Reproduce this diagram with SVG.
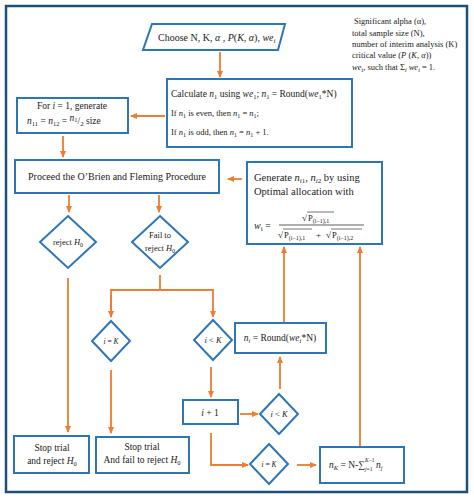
<svg xmlns="http://www.w3.org/2000/svg" width="474" height="502" viewBox="0 0 474 502" font-family="'Liberation Serif','Times New Roman',serif">
<style>
text{font-family:"Liberation Serif","Times New Roman",serif;fill:#1a1a1a}
.node{fill:#fff;stroke:#2E75B6;stroke-width:2}
.con{fill:none;stroke:#ED7D31;stroke-width:1.8}
.i{font-style:italic}
.c{text-anchor:middle}
</style>
<defs>
<marker id="ah" markerWidth="7" markerHeight="6" refX="6" refY="3" orient="auto" markerUnits="userSpaceOnUse">
<path d="M0,0 L7,3 L0,6 Z" fill="#ED7D31"/>
</marker>
</defs>
<rect x="0" y="0" width="474" height="502" fill="#fff"/>
<rect x="6" y="6" width="461" height="486" fill="none" stroke="#1F4E79" stroke-width="2.5"/>

<g id="annotation" font-size="8.5">
<text x="354" y="24">Significant alpha (α),</text>
<text x="352" y="36">total sample size (N),</text>
<text x="352" y="47">number of interim analysis (K)</text>
<text x="352" y="58">critical value (<tspan class="i">P</tspan> (<tspan class="i">K</tspan>, <tspan class="i">α</tspan>))</text>
<text x="352" y="70"><tspan class="i">we</tspan><tspan font-size="6" dy="2">i</tspan><tspan dy="-2">, such that Σ</tspan><tspan font-size="6" dy="2" class="i">i</tspan><tspan dy="-2">  </tspan><tspan class="i">we</tspan><tspan font-size="6" dy="2" class="i">i</tspan><tspan dy="-2"> = 1.</tspan></text>
</g>

<g id="connectors">
<line class="con" x1="220" y1="52" x2="220" y2="77" marker-end="url(#ah)"/>
<line class="con" x1="165" y1="116" x2="131" y2="116" marker-end="url(#ah)"/>
<line class="con" x1="63" y1="136" x2="63" y2="157" marker-end="url(#ah)"/>
<line class="con" x1="242" y1="179" x2="228" y2="179" marker-end="url(#ah)"/>
<line class="con" x1="69" y1="195" x2="69" y2="212" marker-end="url(#ah)"/>
<line class="con" x1="159" y1="195" x2="159" y2="212" marker-end="url(#ah)"/>
<line class="con" x1="68" y1="278" x2="68" y2="432" marker-end="url(#ah)"/>
<polyline class="con" points="160,275 160,290"/>
<polyline class="con" points="111,317 111,290 213,290 213,317" marker-end="url(#ah)"/>
<line class="con" x1="111" y1="295" x2="111" y2="317" marker-end="url(#ah)"/>
<line class="con" x1="111" y1="370" x2="111" y2="433" marker-end="url(#ah)"/>
<line class="con" x1="211" y1="367" x2="211" y2="397" marker-end="url(#ah)"/>
<line class="con" x1="240" y1="414" x2="258" y2="414" marker-end="url(#ah)"/>
<line class="con" x1="280" y1="389" x2="280" y2="357" marker-end="url(#ah)"/>
<polyline class="con" points="211,433 211,465 248,465" marker-end="url(#ah)"/>
<line class="con" x1="297" y1="465" x2="316" y2="465" marker-end="url(#ah)"/>
<line class="con" x1="284" y1="323" x2="284" y2="247" marker-end="url(#ah)"/>
<line class="con" x1="360" y1="447" x2="360" y2="247" marker-end="url(#ah)"/>
</g>

<g id="choose">
<polygon class="node" points="152,24 285,24 278,50 143,50"/>
<text x="158" y="41" font-size="10">Choose N, K, <tspan class="i">α</tspan> , <tspan class="i">P</tspan>(<tspan class="i">K</tspan>, <tspan class="i">α</tspan>), <tspan class="i">we</tspan><tspan font-size="7" dy="2" class="i">i</tspan></text>
</g>

<g id="calculate">
<rect class="node" x="167" y="79" width="185" height="68"/>
<text x="171" y="97" font-size="9.5">Calculate <tspan class="i">n</tspan><tspan font-size="6.5" dy="2">1</tspan><tspan dy="-2"> using </tspan><tspan class="i">we</tspan><tspan font-size="6.5" dy="2">1</tspan><tspan dy="-2">; </tspan><tspan class="i">n</tspan><tspan font-size="6.5" dy="2">1</tspan><tspan dy="-2"> = Round(</tspan><tspan class="i">we</tspan><tspan font-size="6.5" dy="2">1</tspan><tspan dy="-2">*N)</tspan></text>
<text x="171" y="116" font-size="8.5">If  <tspan class="i">n</tspan><tspan font-size="6" dy="2">1</tspan><tspan dy="-2"> is even, then  </tspan><tspan class="i">n</tspan><tspan font-size="6" dy="2">1</tspan><tspan dy="-2"> =  </tspan><tspan class="i">n</tspan><tspan font-size="6" dy="2">1</tspan><tspan dy="-2">;</tspan></text>
<text x="171" y="135" font-size="8.5">If  <tspan class="i">n</tspan><tspan font-size="6" dy="2">1</tspan><tspan dy="-2"> is odd, then  </tspan><tspan class="i">n</tspan><tspan font-size="6" dy="2">1</tspan><tspan dy="-2"> =  </tspan><tspan class="i">n</tspan><tspan font-size="6" dy="2">1</tspan><tspan dy="-2"> + 1.</tspan></text>
</g>

<g id="for-i1">
<rect class="node" x="17" y="98" width="111" height="35"/>
<text x="72" y="109" font-size="9.5" class="c">For <tspan class="i">i</tspan> = 1, generate</text>
<text x="27" y="124" font-size="9.5"><tspan class="i">n</tspan><tspan font-size="6.5" dy="2">11</tspan><tspan dy="-2"> = </tspan><tspan class="i">n</tspan><tspan font-size="6.5" dy="2">12</tspan><tspan dy="-2"> = </tspan><tspan class="i" dy="-3">n</tspan><tspan font-size="6.5" dy="1">1</tspan><tspan dy="2">/</tspan><tspan font-size="7" dy="2">2</tspan><tspan dy="-2"> size</tspan></text>
</g>

<g id="proceed">
<rect class="node" x="15" y="160" width="204" height="33"/>
<text x="117" y="180" font-size="10" class="c">Proceed the O’Brien and Fleming Procedure</text>
</g>

<g id="generate">
<rect class="node" x="247" y="162" width="135" height="82"/>
<text x="254" y="181" font-size="10.5">Generate <tspan class="i">n</tspan><tspan font-size="7" dy="2" class="i">i</tspan><tspan font-size="7">1</tspan><tspan dy="-2">, </tspan><tspan class="i">n</tspan><tspan font-size="7" dy="2" class="i">i</tspan><tspan font-size="7">2</tspan><tspan dy="-2"> by using</tspan></text>
<text x="254" y="195" font-size="10.5">Optimal allocation with</text>
<text x="254" y="229" font-size="10"><tspan class="i">w</tspan><tspan font-size="7" dy="2">i</tspan><tspan dy="-2"> =</tspan></text>
<text x="302" y="221" font-size="9">√</text>
<line x1="307" y1="212" x2="334" y2="212" stroke="#1a1a1a" stroke-width="0.6"/>
<text x="308" y="221" font-size="8.5">P<tspan font-size="6" dy="2">(i−1),1</tspan></text>
<line x1="279" y1="225" x2="364" y2="225" stroke="#1a1a1a" stroke-width="0.7"/>
<text x="278" y="238" font-size="9">√</text>
<line x1="283" y1="229" x2="312" y2="229" stroke="#1a1a1a" stroke-width="0.6"/>
<text x="284" y="238" font-size="8.5">P<tspan font-size="6" dy="2">(i−1),1</tspan></text>
<text x="316" y="238" font-size="9">+</text>
<text x="326" y="238" font-size="9">√</text>
<line x1="331" y1="229" x2="362" y2="229" stroke="#1a1a1a" stroke-width="0.6"/>
<text x="332" y="238" font-size="8.5">P<tspan font-size="6" dy="2">(i−1),2</tspan></text>
</g>

<g id="reject">
<polygon class="node" points="68,216 96,242 68,268 40,242"/>
<text x="68" y="245" font-size="8.5" class="c">reject <tspan class="i">H</tspan><tspan font-size="6" dy="2">0</tspan></text>
</g>

<g id="fail">
<polygon class="node" points="160,216 188,242 160,268 132,242"/>
<text x="160" y="238" font-size="8.5" class="c">Fail to</text>
<text x="160" y="251" font-size="8.5" class="c">reject <tspan class="i">H</tspan><tspan font-size="6" dy="2">0</tspan></text>
</g>

<g id="d-iK-left">
<polygon class="node" points="111,321 130,341 111,361 92,341"/>
<text x="111" y="344" font-size="7.5" class="c"><tspan class="i">i</tspan> = <tspan class="i">K</tspan></text>
</g>

<g id="d-iltK-top">
<polygon class="node" points="213,320 232,340 213,360 194,340"/>
<text x="213" y="343" font-size="8.5" class="c"><tspan class="i">i</tspan> &lt; <tspan class="i">K</tspan></text>
</g>

<g id="ni-round">
<rect class="node" x="235" y="323" width="91" height="30"/>
<text x="280" y="341" font-size="9.5" class="c"><tspan class="i">n</tspan><tspan font-size="6.5" dy="2" class="i">i</tspan><tspan dy="-2"> = Round(</tspan><tspan class="i">we</tspan><tspan font-size="6.5" dy="2" class="i">i</tspan><tspan dy="-2">*N)</tspan></text>
</g>

<g id="i-plus-1">
<rect class="node" x="183" y="400" width="55" height="24"/>
<text x="210" y="416" font-size="9.5" class="c"><tspan class="i">i</tspan> +  1</text>
</g>

<g id="d-iltK-bottom">
<polygon class="node" points="279,394 298,414 279,434 260,414"/>
<text x="279" y="417" font-size="8.5" class="c"><tspan class="i">i</tspan> &lt; <tspan class="i">K</tspan></text>
</g>

<g id="d-iK-bottom">
<polygon class="node" points="269,444 288,464 269,484 250,464"/>
<text x="269" y="467" font-size="7.5" class="c"><tspan class="i">i</tspan> = <tspan class="i">K</tspan></text>
</g>

<g id="nK">
<rect class="node" x="320" y="447" width="84" height="36"/>
<text x="329" y="468" font-size="9.5"><tspan class="i">n</tspan><tspan font-size="6.5" dy="2" class="i">K</tspan><tspan dy="-2"> = N-∑</tspan></text>
<text x="365" y="471" font-size="5.5"><tspan class="i">j</tspan>=1</text>
<text x="365" y="462" font-size="5.5"><tspan class="i">K</tspan>−1</text>
<text x="376" y="468" font-size="9.5"><tspan class="i">n</tspan><tspan font-size="6.5" dy="2" class="i">j</tspan></text>
</g>

<g id="stop-reject">
<rect class="node" x="14" y="436" width="75" height="37"/>
<text x="52" y="451" font-size="9.5" class="c">Stop trial</text>
<text x="52" y="464" font-size="9.5" class="c">and reject <tspan class="i">H</tspan><tspan font-size="6.5" dy="2">0</tspan></text>
</g>

<g id="stop-fail">
<rect class="node" x="96" y="437" width="93" height="36"/>
<text x="142" y="450" font-size="9.5" class="c">Stop trial</text>
<text x="142" y="463" font-size="9.5" class="c">And fail to reject <tspan class="i">H</tspan><tspan font-size="6.5" dy="2">0</tspan></text>
</g>
</svg>
